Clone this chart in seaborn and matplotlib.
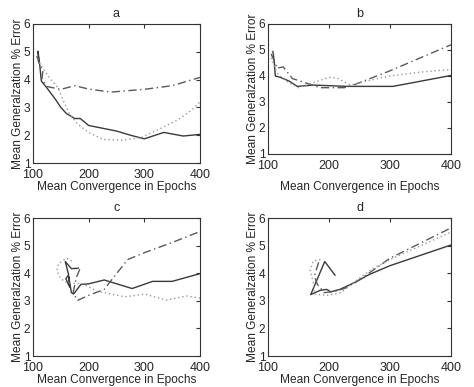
import pandas as pd
import matplotlib
matplotlib.use("Agg")
import matplotlib.pyplot as plt
import seaborn as sns

# values (epochs, % error), three runs per panel
a_solid_x = [110, 109, 112, 115, 125, 140, 150, 160, 175, 185, 200, 250, 275, 300, 335, 370, 400]
a_solid_y = [4.7, 5.02, 4.55, 3.95, 3.7, 3.3, 3.0, 2.78, 2.6, 2.6, 2.35, 2.15, 2.0, 1.87, 2.1, 1.97, 2.03]
a_dash_x = [107, 112, 118, 116, 125, 150, 175, 200, 240, 300, 350, 400]
a_dash_y = [4.85, 4.5, 4.35, 4.0, 3.75, 3.65, 3.78, 3.66, 3.55, 3.65, 3.78, 4.08]
a_dot_x = [108, 113, 120, 130, 145, 152, 165, 180, 200, 225, 260, 295, 330, 360, 385, 400]
a_dot_y = [4.75, 4.55, 4.35, 4.05, 3.7, 3.35, 2.8, 2.4, 2.1, 1.85, 1.82, 1.92, 2.25, 2.55, 2.9, 3.2]

b_solid_x = [108, 110, 112, 120, 135, 148, 175, 230, 305, 400]
b_solid_y = [4.95, 4.6, 4.0, 3.95, 3.8, 3.6, 3.65, 3.6, 3.6, 4.02]
b_dash_x = [105, 108, 115, 125, 140, 160, 185, 225, 240, 300, 350, 400]
b_dash_y = [4.85, 4.7, 4.3, 4.35, 3.9, 3.75, 3.55, 3.55, 3.65, 4.2, 4.7, 5.2]
b_dot_x = [105, 115, 130, 150, 175, 200, 215, 235, 260, 300, 350, 400]
b_dot_y = [4.7, 4.1, 3.8, 3.55, 3.75, 3.95, 3.9, 3.65, 3.8, 4.0, 4.15, 4.25]

c_solid_x = [182, 169, 158, 164, 159, 166, 164, 169, 173, 186, 200, 228, 278, 315, 350, 400]
c_solid_y = [4.19, 4.17, 4.43, 3.95, 3.8, 3.5, 3.9, 3.3, 3.25, 3.6, 3.62, 3.76, 3.45, 3.71, 3.71, 3.99]
c_dash_x = [184, 178, 172, 180, 200, 228, 238, 270, 300, 350, 400]
c_dash_y = [4.15, 3.85, 3.3, 3.02, 3.2, 3.42, 3.68, 4.5, 4.75, 5.12, 5.52]
c_dot_x = [170, 160, 146, 143, 150, 162, 190, 215, 240, 265, 285, 300, 340, 376, 400]
c_dot_y = [4.45, 4.55, 4.35, 4.1, 3.8, 3.65, 3.62, 3.35, 3.25, 3.15, 3.2, 3.25, 3.03, 3.18, 3.1]

d_solid_x = [210, 193, 170, 185, 196, 203, 218, 245, 265, 300, 400]
d_solid_y = [3.93, 4.43, 3.23, 3.38, 3.42, 3.33, 3.42, 3.7, 3.95, 4.28, 5.03]
d_dash_x = [183, 176, 181, 192, 210, 225, 245, 265, 300, 350, 400]
d_dash_y = [4.4, 3.9, 3.6, 3.3, 3.35, 3.45, 3.7, 4.0, 4.55, 5.1, 5.65]
d_dot_x = [186, 174, 169, 174, 176, 196, 220, 245, 270, 300, 350, 400]
d_dot_y = [4.5, 4.45, 4.1, 3.7, 3.25, 3.2, 3.3, 3.75, 4.15, 4.5, 5.0, 5.5]

titles = ["a", "b", "c", "d"]
runs = ["solid", "dashdot", "dotted"]
panels = [
    [(a_solid_x, a_solid_y), (a_dash_x, a_dash_y), (a_dot_x, a_dot_y)],
    [(b_solid_x, b_solid_y), (b_dash_x, b_dash_y), (b_dot_x, b_dot_y)],
    [(c_solid_x, c_solid_y), (c_dash_x, c_dash_y), (c_dot_x, c_dot_y)],
    [(d_solid_x, d_solid_y), (d_dash_x, d_dash_y), (d_dot_x, d_dot_y)],
]

sns.set_style("white")
plt.rcParams["font.family"] = ["Liberation Sans", "DejaVu Sans"]

palette = {"solid": "#3a3a3a", "dashdot": "#5a5a5a", "dotted": "#9a9a9a"}
dashes = {"solid": "", "dashdot": (6, 2.5, 1, 2.5), "dotted": (1, 2)}

fig = plt.figure(figsize=(4.74, 3.87), dpi=100)
# axes boxes in figure fractions (left, bottom, width, height)
boxes = [
    [0.0696, 0.5788, 0.3523, 0.3592],
    [0.5654, 0.6021, 0.3861, 0.3359],
    [0.0696, 0.0800, 0.3523, 0.3560],
    [0.5654, 0.0800, 0.3861, 0.3560],
]

for i, box in enumerate(boxes):
    ax = fig.add_axes(box)
    frames = []
    for name, (xs, ys) in zip(runs, panels[i]):
        frames.append(pd.DataFrame({"epochs": xs, "error": ys, "run": name}))
    df = pd.concat(frames, ignore_index=True)
    sns.lineplot(data=df, x="epochs", y="error", hue="run", style="run",
                 palette=palette, dashes=dashes, sort=False, estimator=None,
                 units="run", linewidth=1.0, legend=False, ax=ax)
    ax.set_xlim(100, 400)
    ax.set_ylim(1, 6)
    ax.set_xticks([100, 200, 300, 400])
    ax.set_yticks([1, 2, 3, 4, 5, 6])
    ax.tick_params(direction="in", top=True, right=True, length=3,
                   color="#333333")
    ax.tick_params(axis="x", pad=4.5, labelsize=9)
    ax.tick_params(axis="y", pad=2, labelsize=8.6)
    for s in ax.spines.values():
        s.set_color("#333333")
        s.set_linewidth(0.8)
    ax.set_title(titles[i], fontsize=9, pad=5)
    ax.set_xlabel("Mean Convergence in Epochs", fontsize=8.6, labelpad=0 if i != 1 else 6)
    ax.set_ylabel("Mean Generalzation % Error", fontsize=8.6, labelpad=0)

fig.savefig("out.png", dpi=100)
